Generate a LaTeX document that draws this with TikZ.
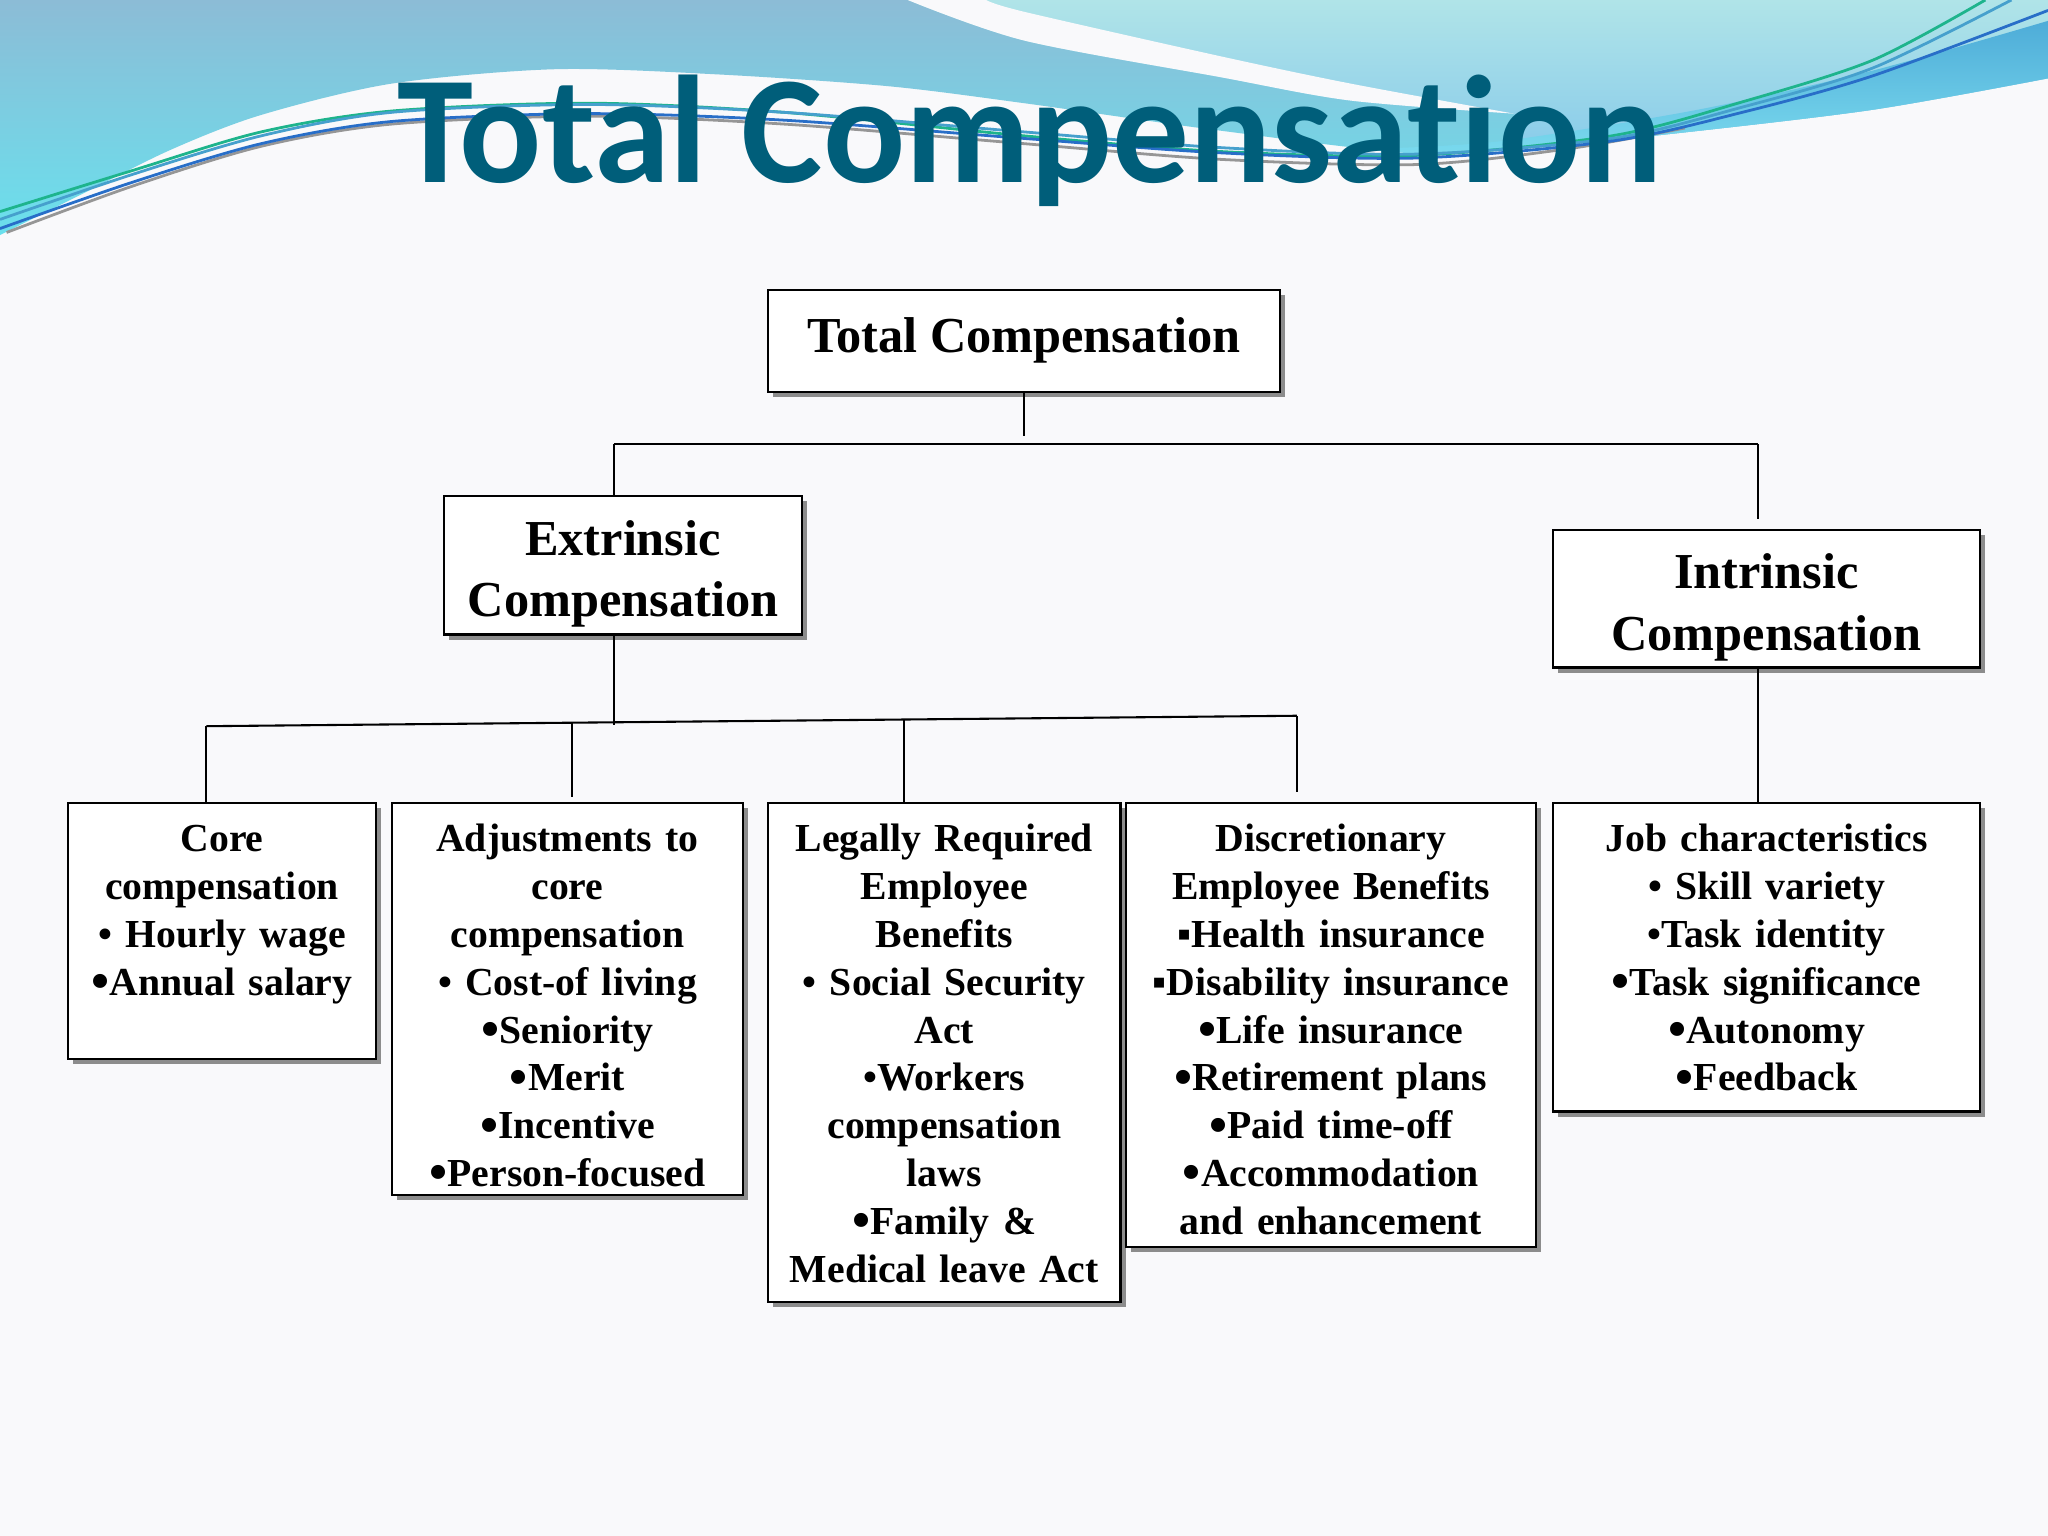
\documentclass[tikz,border=0pt]{standalone}
\usepackage{fontspec}
\setmainfont{Liberation Serif}
\newfontfamily\titlefont[Ligatures={NoCommon}]{Carlito}
\newcommand{\bigbul}{\raisebox{-0.08em}{\scalebox{1.3}{•}}}

\definecolor{paper}{RGB}{249,249,251}
\definecolor{titleteal}{RGB}{0,94,122}
\definecolor{bandtop}{RGB}{140,188,214}
\definecolor{bandlow}{RGB}{106,224,237}
\definecolor{skytop}{RGB}{176,228,232}
\definecolor{skylow}{RGB}{138,204,234}
\definecolor{bandblue}{RGB}{78,172,216}
\definecolor{bandcyan}{RGB}{122,218,238}
\definecolor{wavea}{RGB}{70,160,205}
\definecolor{waveb}{RGB}{40,110,200}
\definecolor{wavec}{RGB}{30,180,140}
\definecolor{waved}{RGB}{150,150,150}

\tikzset{every picture/.style={line width=1.2pt}}
\tikzset{
  headbox/.style={draw, fill=white, line width=1.4pt, align=center, inner sep=0pt,
    font=\bfseries\fontsize{28.9pt}{35.25pt}\selectfont,
    preaction={fill=black!45, transform canvas={xshift=3pt, yshift=-3pt}}},
  leafbox/.style={headbox, anchor=north, text height=27.75pt,
    font=\bfseries\fontsize{22.8pt}{27.5pt}\selectfont},
  wave/.style={line width=1.6pt}
}

\begin{document}
\begin{tikzpicture}[x=0.75pt,y=0.75pt,yscale=-1,xscale=1]
%Background
\fill[paper] (0,0) rectangle (1568,1176);
\useasboundingbox (0,0) rectangle (1568,1176);

%Shape: top wave
\shade[top color=bandtop, bottom color=bandlow] (0,0) -- (1568,0) -- plot[smooth] coordinates {(1568,60) (1434,84) (1284,102) (1200,110) (1084,117) (934,100) (784,79) (680,66) (550,57) (425,53) (300,64) (200,88) (130,115) (60,150) (0,180)} -- cycle;
%Shape: top right sky
\shade[top color=skytop, bottom color=skylow] (695,0) -- (1568,0) -- (1568,60) -- plot[smooth] coordinates {(1568,60) (1434,84) (1284,102) (1200,110) (1159,113)} -- (1159,87) -- plot[smooth] coordinates {(1159,87) (1034,77) (934,59) (784,31) (695,0)} -- cycle;
%Shape: right band
\shade[top color=bandblue, bottom color=bandcyan] plot[smooth] coordinates {(1050,114) (1150,108) (1300,84) (1434,54) (1568,16)} -- plot[smooth] coordinates {(1568,60) (1434,84) (1284,102) (1200,110) (1084,117) (1050,114)} -- cycle;
%Shape: white swoosh
\fill[paper] plot[smooth] coordinates {(695,0) (784,31) (934,59) (1034,77) (1159,87)} -- plot[smooth] coordinates {(1159,87) (1034,64) (934,43) (784,9) (755,0)} -- cycle;

%Curves
\draw[wave, waved] plot[smooth] coordinates {(5,178) (100,143) (200,112) (300,95) (450,89) (600,95) (784,110) (934,122) (1084,126) (1200,114) (1290,98)};
\draw[wave, wavec] plot[smooth] coordinates {(0,162) (100,131) (200,101) (300,85) (450,79) (600,86) (784,104) (934,116) (1084,119) (1234,104) (1334,78) (1434,46) (1520,0)};
\draw[wave, wavea] plot[smooth] coordinates {(0,168) (100,134) (200,104) (300,86) (450,80) (600,86) (784,101) (934,113) (1084,118) (1234,106) (1334,82) (1434,52) (1540,0)};
\draw[wave, waveb] plot[smooth] coordinates {(0,175) (100,140) (200,110) (300,93) (450,87) (600,92) (784,106) (934,117) (1084,121) (1234,108) (1334,86) (1434,58) (1568,8)};

%Title
\node[anchor=base, inner sep=0pt, text=titleteal, font=\titlefont\bfseries\fontsize{88pt}{92pt}\selectfont] (title) at (788.5,140) {Total Compensation};

%Upper boxes
\node[headbox, minimum width=294pt, minimum height=58.5pt] (total) at (784,261) {Total Compensation};
\node[headbox, anchor=north, text width=205.5pt, text height=33.75pt, text depth=45.75pt] (extr) at (477,379) {Extrinsic\\Compensation};
\node[headbox, anchor=north, text width=245.25pt, text height=33.75pt, text depth=45pt] (intr) at (1352.5,405) {Intrinsic\\Compensation};

%Lower boxes
\node[leafbox, text width=177pt, text depth=119.25pt] (core) at (170,614) {Core\\compensation\\• Hourly wage\\\bigbul Annual salary};
\node[leafbox, text width=201.75pt, text depth=197.25pt] (adj) at (434.5,614) {Adjustments to\\core\\compensation\\• Cost-of living\\\bigbul Seniority\\\bigbul Merit\\\bigbul Incentive\\\bigbul Person-focused};
\node[leafbox, text width=202.5pt, text depth=258.75pt] (legal) at (723,614) {Legally Required\\Employee\\Benefits\\• Social Security\\Act\\•Workers\\compensation\\laws\\\bigbul Family \&\\Medical leave Act};
\node[leafbox, text width=235.5pt, text depth=227.25pt] (disc) at (1019,614) {Discretionary\\Employee Benefits\\▪Health insurance\\▪Disability insurance\\\bigbul Life insurance\\\bigbul Retirement plans\\\bigbul Paid time-off\\\bigbul Accommodation\\and enhancement};
\node[leafbox, text width=245.25pt, text depth=149.25pt] (job) at (1352.5,614) {Job characteristics\\• Skill variety\\•Task identity\\\bigbul Task significance\\\bigbul Autonomy\\\bigbul Feedback};

%Connectors
\coordinate (tbus1) at (470,340);
\coordinate (tbus2) at (1346,340);
\coordinate (ebus1) at (158,556);
\coordinate (ebus2) at (993,548);
\coordinate (ebusa) at (438,553);
\coordinate (ebusb) at (692,551);
\draw (total.south) -- ++(0,33);
\draw (tbus1) -- (tbus2);
\draw (tbus1) -- (tbus1 |- extr.north);
\draw (tbus2) -- ++(0,57);
\draw (tbus1 |- extr.south) -- ++(0,68);
\draw (ebus1) -- (ebus2);
\draw (ebus1) -- (ebus1 |- core.north);
\draw (ebusa) -- ++(0,57);
\draw (ebusb) -- (ebusb |- legal.north);
\draw (ebus2) -- ++(0,58);
\draw (tbus2 |- intr.south) -- (tbus2 |- job.north);

\end{tikzpicture}
\end{document}
